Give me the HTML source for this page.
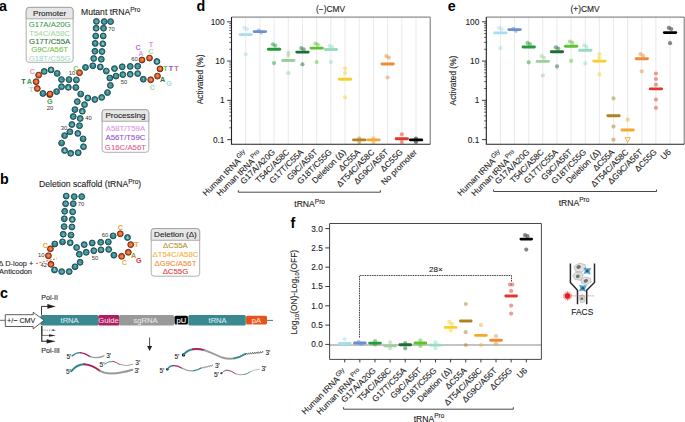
<!DOCTYPE html>
<html><head><meta charset="utf-8"><style>
html,body{margin:0;padding:0;background:#fff;width:685px;height:422px;overflow:hidden}
svg{display:block}
</style></head><body>
<svg width="685" height="422" viewBox="0 0 685 422" font-family='"Liberation Sans", sans-serif'>
<rect width="685" height="422" fill="#fff"/>
<text x="-1.00" y="10.60" font-size="14.3" fill="#000" text-anchor="start" font-weight="bold" >a</text>
<text x="0.00" y="183.60" font-size="14.3" fill="#000" text-anchor="start" font-weight="bold" >b</text>
<text x="0.00" y="297.60" font-size="14.3" fill="#000" text-anchor="start" font-weight="bold" >c</text>
<text x="196.60" y="10.60" font-size="14.3" fill="#000" text-anchor="start" font-weight="bold" >d</text>
<text x="447.70" y="11.00" font-size="14.3" fill="#000" text-anchor="start" font-weight="bold" >e</text>
<text x="290.40" y="228.10" font-size="14.3" fill="#000" text-anchor="start" font-weight="bold" >f</text>
<rect x="26.2" y="7.4" width="46.89999999999999" height="54.9" rx="3" fill="#fff" stroke="#9a9a9a" stroke-width="0.8"/>
<path d="M26.2 18.8 V10.4 Q26.2 7.4 29.2 7.4 H70.1 Q73.1 7.4 73.1 10.4 V18.8 Z" fill="#e6e6e6" stroke="#9a9a9a" stroke-width="0.8"/>
<text x="49.65" y="15.91" font-size="8.1" fill="#222" stroke="#222" stroke-width="0.1" text-anchor="middle" font-weight="normal" >Promoter</text>
<text x="49.65" y="27.41" font-size="7.8" fill="#3f9f4f" stroke="#3f9f4f" stroke-width="0.1" text-anchor="middle" font-weight="normal" >G17A/A20G</text>
<text x="49.65" y="35.61" font-size="7.8" fill="#a9d6a6" stroke="#a9d6a6" stroke-width="0.1" text-anchor="middle" font-weight="normal" >T54C/A58C</text>
<text x="49.65" y="44.01" font-size="7.8" fill="#2c7443" stroke="#2c7443" stroke-width="0.1" text-anchor="middle" font-weight="normal" >G17T/C55A</text>
<text x="49.65" y="52.31" font-size="7.8" fill="#74c043" stroke="#74c043" stroke-width="0.1" text-anchor="middle" font-weight="normal" >G9C/A56T</text>
<text x="49.65" y="61.01" font-size="7.8" fill="#9fdcc6" stroke="#9fdcc6" stroke-width="0.1" text-anchor="middle" font-weight="normal" >G18T/C55G</text>
<rect x="102.1" y="109.7" width="46.70000000000002" height="42.60000000000001" rx="3" fill="#fff" stroke="#9a9a9a" stroke-width="0.8"/>
<path d="M102.1 121.3 V112.7 Q102.1 109.7 105.1 109.7 H145.8 Q148.8 109.7 148.8 112.7 V121.3 Z" fill="#e6e6e6" stroke="#9a9a9a" stroke-width="0.8"/>
<text x="125.45" y="118.31" font-size="8.1" fill="#222" stroke="#222" stroke-width="0.1" text-anchor="middle" font-weight="normal" >Processing</text>
<text x="125.45" y="130.51" font-size="7.8" fill="#dc94e2" stroke="#dc94e2" stroke-width="0.1" text-anchor="middle" font-weight="normal" >A58T/T59A</text>
<text x="125.45" y="140.11" font-size="7.8" fill="#9350cc" stroke="#9350cc" stroke-width="0.1" text-anchor="middle" font-weight="normal" >A56T/T59C</text>
<text x="125.45" y="149.51" font-size="7.8" fill="#e05c8c" stroke="#e05c8c" stroke-width="0.1" text-anchor="middle" font-weight="normal" >G16C/A56T</text>
<rect x="151.2" y="228.5" width="48.5" height="47.69999999999999" rx="3" fill="#fff" stroke="#9a9a9a" stroke-width="0.8"/>
<path d="M151.2 240.3 V231.5 Q151.2 228.5 154.2 228.5 H196.7 Q199.7 228.5 199.7 231.5 V240.3 Z" fill="#e6e6e6" stroke="#9a9a9a" stroke-width="0.8"/>
<text x="175.45" y="237.21" font-size="8.1" fill="#222" stroke="#222" stroke-width="0.1" text-anchor="middle" font-weight="normal" >Deletion (Δ)</text>
<text x="175.45" y="248.21" font-size="7.8" fill="#b4902c" stroke="#b4902c" stroke-width="0.1" text-anchor="middle" font-weight="normal" >ΔC55A</text>
<text x="175.45" y="257.01" font-size="7.8" fill="#f4b23c" stroke="#f4b23c" stroke-width="0.1" text-anchor="middle" font-weight="normal" >ΔT54C/A58C</text>
<text x="175.45" y="265.61" font-size="7.8" fill="#f28c30" stroke="#f28c30" stroke-width="0.1" text-anchor="middle" font-weight="normal" >ΔG9C/A56T</text>
<text x="175.45" y="274.01" font-size="7.8" fill="#e0343a" stroke="#e0343a" stroke-width="0.1" text-anchor="middle" font-weight="normal" >ΔC55G</text>
<text x="81.00" y="15.20" font-size="8.6" fill="#222" stroke="#222" stroke-width="0.1" text-anchor="start" font-weight="normal" >Mutant tRNA<tspan font-size="6.5" dy="-3.4">Pro</tspan></text>
<text x="39.00" y="186.90" font-size="8.6" fill="#222" stroke="#222" stroke-width="0.1" text-anchor="start" font-weight="normal" >Deletion scaffold (tRNA<tspan font-size="6.5" dy="-3.4">Pro</tspan><tspan dy="3.4">)</tspan></text>
<circle cx="96.40" cy="21.40" r="2.95" fill="#2f878e" stroke="#173a3e" stroke-width="0.85"/>
<text x="96.40" y="22.70" font-size="3.6" fill="#c6e4e6" text-anchor="middle">G</text>
<circle cx="104.20" cy="21.60" r="2.95" fill="#2f878e" stroke="#173a3e" stroke-width="0.85"/>
<text x="104.20" y="22.90" font-size="3.6" fill="#c6e4e6" text-anchor="middle">C</text>
<circle cx="110.60" cy="21.60" r="2.95" fill="#2f878e" stroke="#173a3e" stroke-width="0.85"/>
<text x="110.60" y="22.90" font-size="3.6" fill="#c6e4e6" text-anchor="middle">C</text>
<circle cx="96.10" cy="28.20" r="2.95" fill="#2f878e" stroke="#173a3e" stroke-width="0.85"/>
<text x="96.10" y="29.50" font-size="3.6" fill="#c6e4e6" text-anchor="middle">G</text>
<circle cx="103.50" cy="28.20" r="2.95" fill="#2f878e" stroke="#173a3e" stroke-width="0.85"/>
<text x="103.50" y="29.50" font-size="3.6" fill="#c6e4e6" text-anchor="middle">C</text>
<circle cx="95.70" cy="36.00" r="2.95" fill="#2f878e" stroke="#173a3e" stroke-width="0.85"/>
<text x="95.70" y="37.30" font-size="3.6" fill="#c6e4e6" text-anchor="middle">C</text>
<circle cx="103.20" cy="36.00" r="2.95" fill="#2f878e" stroke="#173a3e" stroke-width="0.85"/>
<text x="103.20" y="37.30" font-size="3.6" fill="#c6e4e6" text-anchor="middle">G</text>
<circle cx="95.20" cy="43.40" r="2.95" fill="#2f878e" stroke="#173a3e" stroke-width="0.85"/>
<text x="95.20" y="44.70" font-size="3.6" fill="#c6e4e6" text-anchor="middle">T</text>
<circle cx="102.80" cy="43.80" r="2.95" fill="#2f878e" stroke="#173a3e" stroke-width="0.85"/>
<text x="102.80" y="45.10" font-size="3.6" fill="#c6e4e6" text-anchor="middle">A</text>
<circle cx="94.90" cy="51.20" r="2.95" fill="#2f878e" stroke="#173a3e" stroke-width="0.85"/>
<text x="94.90" y="52.50" font-size="3.6" fill="#c6e4e6" text-anchor="middle">C</text>
<circle cx="102.00" cy="51.50" r="2.95" fill="#2f878e" stroke="#173a3e" stroke-width="0.85"/>
<text x="102.00" y="52.80" font-size="3.6" fill="#c6e4e6" text-anchor="middle">G</text>
<circle cx="93.70" cy="58.50" r="2.95" fill="#2f878e" stroke="#173a3e" stroke-width="0.85"/>
<text x="93.70" y="59.80" font-size="3.6" fill="#c6e4e6" text-anchor="middle">G</text>
<circle cx="101.30" cy="59.20" r="2.95" fill="#2f878e" stroke="#173a3e" stroke-width="0.85"/>
<text x="101.30" y="60.50" font-size="3.6" fill="#c6e4e6" text-anchor="middle">C</text>
<circle cx="92.80" cy="65.80" r="2.95" fill="#2f878e" stroke="#173a3e" stroke-width="0.85"/>
<text x="92.80" y="67.10" font-size="3.6" fill="#c6e4e6" text-anchor="middle">T</text>
<circle cx="85.50" cy="67.40" r="2.95" fill="#2f878e" stroke="#173a3e" stroke-width="0.85"/>
<text x="85.50" y="68.70" font-size="3.6" fill="#c6e4e6" text-anchor="middle">T</text>
<circle cx="100.30" cy="67.00" r="2.95" fill="#2f878e" stroke="#173a3e" stroke-width="0.85"/>
<text x="100.30" y="68.30" font-size="3.6" fill="#c6e4e6" text-anchor="middle">A</text>
<circle cx="106.30" cy="71.10" r="2.95" fill="#2f878e" stroke="#173a3e" stroke-width="0.85"/>
<text x="106.30" y="72.40" font-size="3.6" fill="#c6e4e6" text-anchor="middle">G</text>
<circle cx="76.40" cy="79.90" r="2.95" fill="#2f878e" stroke="#173a3e" stroke-width="0.85"/>
<text x="76.40" y="81.20" font-size="3.6" fill="#c6e4e6" text-anchor="middle">G</text>
<circle cx="69.00" cy="79.60" r="2.95" fill="#2f878e" stroke="#173a3e" stroke-width="0.85"/>
<text x="69.00" y="80.90" font-size="3.6" fill="#c6e4e6" text-anchor="middle">T</text>
<circle cx="61.50" cy="79.60" r="2.95" fill="#2f878e" stroke="#173a3e" stroke-width="0.85"/>
<text x="61.50" y="80.90" font-size="3.6" fill="#c6e4e6" text-anchor="middle">C</text>
<circle cx="75.80" cy="87.50" r="2.95" fill="#2f878e" stroke="#173a3e" stroke-width="0.85"/>
<text x="75.80" y="88.80" font-size="3.6" fill="#c6e4e6" text-anchor="middle">T</text>
<circle cx="68.30" cy="87.30" r="2.95" fill="#2f878e" stroke="#173a3e" stroke-width="0.85"/>
<text x="68.30" y="88.60" font-size="3.6" fill="#c6e4e6" text-anchor="middle">A</text>
<circle cx="61.50" cy="86.70" r="2.95" fill="#2f878e" stroke="#173a3e" stroke-width="0.85"/>
<text x="61.50" y="88.00" font-size="3.6" fill="#c6e4e6" text-anchor="middle">G</text>
<circle cx="57.20" cy="73.40" r="2.95" fill="#2f878e" stroke="#173a3e" stroke-width="0.85"/>
<text x="57.20" y="74.70" font-size="3.6" fill="#c6e4e6" text-anchor="middle">T</text>
<circle cx="51.00" cy="69.90" r="2.95" fill="#2f878e" stroke="#173a3e" stroke-width="0.85"/>
<text x="51.00" y="71.20" font-size="3.6" fill="#c6e4e6" text-anchor="middle">A</text>
<circle cx="44.20" cy="71.40" r="2.95" fill="#2f878e" stroke="#173a3e" stroke-width="0.85"/>
<text x="44.20" y="72.70" font-size="3.6" fill="#c6e4e6" text-anchor="middle">G</text>
<circle cx="42.90" cy="93.50" r="2.95" fill="#2f878e" stroke="#173a3e" stroke-width="0.85"/>
<text x="42.90" y="94.80" font-size="3.6" fill="#c6e4e6" text-anchor="middle">T</text>
<circle cx="56.60" cy="91.60" r="2.95" fill="#2f878e" stroke="#173a3e" stroke-width="0.85"/>
<text x="56.60" y="92.90" font-size="3.6" fill="#c6e4e6" text-anchor="middle">T</text>
<circle cx="80.70" cy="94.10" r="2.95" fill="#2f878e" stroke="#173a3e" stroke-width="0.85"/>
<text x="80.70" y="95.40" font-size="3.6" fill="#c6e4e6" text-anchor="middle">T</text>
<circle cx="87.80" cy="98.00" r="2.95" fill="#2f878e" stroke="#173a3e" stroke-width="0.85"/>
<text x="87.80" y="99.30" font-size="3.6" fill="#c6e4e6" text-anchor="middle">A</text>
<circle cx="94.80" cy="99.50" r="2.95" fill="#2f878e" stroke="#173a3e" stroke-width="0.85"/>
<text x="94.80" y="100.80" font-size="3.6" fill="#c6e4e6" text-anchor="middle">G</text>
<circle cx="101.70" cy="97.40" r="2.95" fill="#2f878e" stroke="#173a3e" stroke-width="0.85"/>
<text x="101.70" y="98.70" font-size="3.6" fill="#c6e4e6" text-anchor="middle">G</text>
<circle cx="107.50" cy="92.60" r="2.95" fill="#2f878e" stroke="#173a3e" stroke-width="0.85"/>
<text x="107.50" y="93.90" font-size="3.6" fill="#c6e4e6" text-anchor="middle">T</text>
<circle cx="110.40" cy="85.40" r="2.95" fill="#2f878e" stroke="#173a3e" stroke-width="0.85"/>
<text x="110.40" y="86.70" font-size="3.6" fill="#c6e4e6" text-anchor="middle">C</text>
<circle cx="77.30" cy="101.60" r="2.95" fill="#2f878e" stroke="#173a3e" stroke-width="0.85"/>
<text x="77.30" y="102.90" font-size="3.6" fill="#c6e4e6" text-anchor="middle">C</text>
<circle cx="74.90" cy="109.60" r="2.95" fill="#2f878e" stroke="#173a3e" stroke-width="0.85"/>
<text x="74.90" y="110.90" font-size="3.6" fill="#c6e4e6" text-anchor="middle">T</text>
<circle cx="73.20" cy="116.50" r="2.95" fill="#2f878e" stroke="#173a3e" stroke-width="0.85"/>
<text x="73.20" y="117.80" font-size="3.6" fill="#c6e4e6" text-anchor="middle">C</text>
<circle cx="71.90" cy="124.50" r="2.95" fill="#2f878e" stroke="#173a3e" stroke-width="0.85"/>
<text x="71.90" y="125.80" font-size="3.6" fill="#c6e4e6" text-anchor="middle">G</text>
<circle cx="69.90" cy="131.80" r="2.95" fill="#2f878e" stroke="#173a3e" stroke-width="0.85"/>
<text x="69.90" y="133.10" font-size="3.6" fill="#c6e4e6" text-anchor="middle">C</text>
<circle cx="84.50" cy="104.60" r="2.95" fill="#2f878e" stroke="#173a3e" stroke-width="0.85"/>
<text x="84.50" y="105.90" font-size="3.6" fill="#c6e4e6" text-anchor="middle">G</text>
<circle cx="82.30" cy="111.20" r="2.95" fill="#2f878e" stroke="#173a3e" stroke-width="0.85"/>
<text x="82.30" y="112.50" font-size="3.6" fill="#c6e4e6" text-anchor="middle">A</text>
<circle cx="80.20" cy="118.50" r="2.95" fill="#2f878e" stroke="#173a3e" stroke-width="0.85"/>
<text x="80.20" y="119.80" font-size="3.6" fill="#c6e4e6" text-anchor="middle">G</text>
<circle cx="79.50" cy="125.70" r="2.95" fill="#2f878e" stroke="#173a3e" stroke-width="0.85"/>
<text x="79.50" y="127.00" font-size="3.6" fill="#c6e4e6" text-anchor="middle">C</text>
<circle cx="77.80" cy="133.40" r="2.95" fill="#2f878e" stroke="#173a3e" stroke-width="0.85"/>
<text x="77.80" y="134.70" font-size="3.6" fill="#c6e4e6" text-anchor="middle">G</text>
<circle cx="64.60" cy="135.60" r="2.95" fill="#2f878e" stroke="#173a3e" stroke-width="0.85"/>
<text x="64.60" y="136.90" font-size="3.6" fill="#c6e4e6" text-anchor="middle">T</text>
<circle cx="61.60" cy="143.10" r="2.95" fill="#2f878e" stroke="#173a3e" stroke-width="0.85"/>
<text x="61.60" y="144.40" font-size="3.6" fill="#c6e4e6" text-anchor="middle">T</text>
<circle cx="64.60" cy="150.50" r="2.95" fill="#2f878e" stroke="#173a3e" stroke-width="0.85"/>
<text x="64.60" y="151.80" font-size="3.6" fill="#c6e4e6" text-anchor="middle">A</text>
<circle cx="70.70" cy="153.30" r="2.95" fill="#2f878e" stroke="#173a3e" stroke-width="0.85"/>
<text x="70.70" y="154.60" font-size="3.6" fill="#c6e4e6" text-anchor="middle">G</text>
<circle cx="78.20" cy="152.70" r="2.95" fill="#2f878e" stroke="#173a3e" stroke-width="0.85"/>
<text x="78.20" y="154.00" font-size="3.6" fill="#c6e4e6" text-anchor="middle">G</text>
<circle cx="83.50" cy="146.70" r="2.95" fill="#2f878e" stroke="#173a3e" stroke-width="0.85"/>
<text x="83.50" y="148.00" font-size="3.6" fill="#c6e4e6" text-anchor="middle">G</text>
<circle cx="83.10" cy="138.90" r="2.95" fill="#2f878e" stroke="#173a3e" stroke-width="0.85"/>
<text x="83.10" y="140.20" font-size="3.6" fill="#c6e4e6" text-anchor="middle">T</text>
<circle cx="114.50" cy="68.60" r="2.95" fill="#2f878e" stroke="#173a3e" stroke-width="0.85"/>
<text x="114.50" y="69.90" font-size="3.6" fill="#c6e4e6" text-anchor="middle">G</text>
<circle cx="122.20" cy="66.80" r="2.95" fill="#2f878e" stroke="#173a3e" stroke-width="0.85"/>
<text x="122.20" y="68.10" font-size="3.6" fill="#c6e4e6" text-anchor="middle">C</text>
<circle cx="130.20" cy="66.40" r="2.95" fill="#2f878e" stroke="#173a3e" stroke-width="0.85"/>
<text x="130.20" y="67.70" font-size="3.6" fill="#c6e4e6" text-anchor="middle">C</text>
<circle cx="137.70" cy="66.20" r="2.95" fill="#2f878e" stroke="#173a3e" stroke-width="0.85"/>
<text x="137.70" y="67.50" font-size="3.6" fill="#c6e4e6" text-anchor="middle">C</text>
<circle cx="109.80" cy="78.00" r="2.95" fill="#2f878e" stroke="#173a3e" stroke-width="0.85"/>
<text x="109.80" y="79.30" font-size="3.6" fill="#c6e4e6" text-anchor="middle">C</text>
<circle cx="116.00" cy="76.10" r="2.95" fill="#2f878e" stroke="#173a3e" stroke-width="0.85"/>
<text x="116.00" y="77.40" font-size="3.6" fill="#c6e4e6" text-anchor="middle">C</text>
<circle cx="122.80" cy="74.60" r="2.95" fill="#2f878e" stroke="#173a3e" stroke-width="0.85"/>
<text x="122.80" y="75.90" font-size="3.6" fill="#c6e4e6" text-anchor="middle">G</text>
<circle cx="130.20" cy="74.20" r="2.95" fill="#2f878e" stroke="#173a3e" stroke-width="0.85"/>
<text x="130.20" y="75.50" font-size="3.6" fill="#c6e4e6" text-anchor="middle">G</text>
<circle cx="137.70" cy="73.60" r="2.95" fill="#2f878e" stroke="#173a3e" stroke-width="0.85"/>
<text x="137.70" y="74.90" font-size="3.6" fill="#c6e4e6" text-anchor="middle">G</text>
<circle cx="156.90" cy="61.50" r="2.95" fill="#2f878e" stroke="#173a3e" stroke-width="0.85"/>
<text x="156.90" y="62.80" font-size="3.6" fill="#c6e4e6" text-anchor="middle">A</text>
<circle cx="143.30" cy="79.20" r="2.95" fill="#2f878e" stroke="#173a3e" stroke-width="0.85"/>
<text x="143.30" y="80.50" font-size="3.6" fill="#c6e4e6" text-anchor="middle">T</text>
<circle cx="79.50" cy="72.70" r="2.95" fill="#e2521a" stroke="#4a2412" stroke-width="0.85"/>
<text x="79.50" y="74.00" font-size="3.6" fill="#ffd9c8" text-anchor="middle">G</text>
<circle cx="38.60" cy="75.10" r="2.95" fill="#e2521a" stroke="#4a2412" stroke-width="0.85"/>
<text x="38.60" y="76.40" font-size="3.6" fill="#ffd9c8" text-anchor="middle">G</text>
<circle cx="36.10" cy="81.70" r="2.95" fill="#e2521a" stroke="#4a2412" stroke-width="0.85"/>
<text x="36.10" y="83.00" font-size="3.6" fill="#ffd9c8" text-anchor="middle">G</text>
<circle cx="37.30" cy="88.50" r="2.95" fill="#e2521a" stroke="#4a2412" stroke-width="0.85"/>
<text x="37.30" y="89.80" font-size="3.6" fill="#ffd9c8" text-anchor="middle">G</text>
<circle cx="49.70" cy="94.50" r="2.95" fill="#e2521a" stroke="#4a2412" stroke-width="0.85"/>
<text x="49.70" y="95.80" font-size="3.6" fill="#ffd9c8" text-anchor="middle">G</text>
<circle cx="50.00" cy="94.10" r="2.95" fill="#e2521a" stroke="#4a2412" stroke-width="0.85"/>
<text x="50.00" y="95.40" font-size="3.6" fill="#ffd9c8" text-anchor="middle">G</text>
<circle cx="142.00" cy="60.00" r="2.95" fill="#e2521a" stroke="#4a2412" stroke-width="0.85"/>
<text x="142.00" y="61.30" font-size="3.6" fill="#ffd9c8" text-anchor="middle">G</text>
<circle cx="149.50" cy="58.10" r="2.95" fill="#e2521a" stroke="#4a2412" stroke-width="0.85"/>
<text x="149.50" y="59.40" font-size="3.6" fill="#ffd9c8" text-anchor="middle">G</text>
<circle cx="160.00" cy="68.90" r="2.95" fill="#e2521a" stroke="#4a2412" stroke-width="0.85"/>
<text x="160.00" y="70.20" font-size="3.6" fill="#ffd9c8" text-anchor="middle">G</text>
<circle cx="157.50" cy="76.10" r="2.95" fill="#e2521a" stroke="#4a2412" stroke-width="0.85"/>
<text x="157.50" y="77.40" font-size="3.6" fill="#ffd9c8" text-anchor="middle">G</text>
<circle cx="150.70" cy="79.80" r="2.95" fill="#e2521a" stroke="#4a2412" stroke-width="0.85"/>
<text x="150.70" y="81.10" font-size="3.6" fill="#ffd9c8" text-anchor="middle">G</text>
<text x="32.40" y="74.39" font-size="7.2" fill="#e892b8" text-anchor="middle" font-weight="bold">C</text>
<text x="23.50" y="84.29" font-size="7.2" fill="#2c7443" text-anchor="middle" font-weight="bold">T</text>
<text x="29.30" y="84.29" font-size="7.2" fill="#3f9f4f" text-anchor="middle" font-weight="bold">A</text>
<text x="31.10" y="92.39" font-size="7.2" fill="#9fdcc6" text-anchor="middle" font-weight="bold">T</text>
<text x="49.70" y="104.19" font-size="7.2" fill="#3fa046" text-anchor="middle" font-weight="bold">G</text>
<text x="75.80" y="70.59" font-size="7.2" fill="#7cc244" text-anchor="middle" font-weight="bold">C</text>
<text x="138.10" y="49.69" font-size="7.2" fill="#b070d8" text-anchor="middle" font-weight="bold">C</text>
<text x="140.90" y="55.79" font-size="7.2" fill="#e0a0e4" text-anchor="middle" font-weight="bold">A</text>
<text x="150.90" y="47.29" font-size="7.2" fill="#dc94e2" text-anchor="middle" font-weight="bold">T</text>
<text x="150.90" y="54.39" font-size="7.2" fill="#a9d6a6" text-anchor="middle" font-weight="bold">C</text>
<text x="165.50" y="70.99" font-size="7.2" fill="#74c043" text-anchor="middle" font-weight="bold">T</text>
<text x="171.00" y="70.99" font-size="7.2" fill="#9350cc" text-anchor="middle" font-weight="bold">T</text>
<text x="176.50" y="70.99" font-size="7.2" fill="#e05c8c" text-anchor="middle" font-weight="bold">T</text>
<text x="162.70" y="82.19" font-size="7.2" fill="#2c7443" text-anchor="middle" font-weight="bold">A</text>
<text x="169.00" y="85.79" font-size="7.2" fill="#9fdcc6" text-anchor="middle" font-weight="bold">G</text>
<text x="152.30" y="90.49" font-size="7.2" fill="#a9d6a6" text-anchor="middle" font-weight="bold">C</text>
<text x="50.00" y="110.29" font-size="5.8" fill="#333" text-anchor="middle" font-weight="normal">20</text>
<text x="72.00" y="75.09" font-size="5.8" fill="#333" text-anchor="middle" font-weight="normal">10</text>
<text x="111.50" y="30.59" font-size="5.8" fill="#333" text-anchor="middle" font-weight="normal">70</text>
<text x="64.00" y="129.89" font-size="5.8" fill="#333" text-anchor="middle" font-weight="normal">30</text>
<text x="88.60" y="120.29" font-size="5.8" fill="#333" text-anchor="middle" font-weight="normal">40</text>
<text x="124.00" y="83.79" font-size="5.8" fill="#333" text-anchor="middle" font-weight="normal">50</text>
<text x="134.60" y="60.79" font-size="5.8" fill="#333" text-anchor="middle" font-weight="normal">60</text>
<circle cx="66.20" cy="196.10" r="2.95" fill="#2f878e" stroke="#173a3e" stroke-width="0.85"/>
<text x="66.20" y="197.40" font-size="3.6" fill="#c6e4e6" text-anchor="middle">G</text>
<circle cx="74.20" cy="196.60" r="2.95" fill="#2f878e" stroke="#173a3e" stroke-width="0.85"/>
<text x="74.20" y="197.90" font-size="3.6" fill="#c6e4e6" text-anchor="middle">C</text>
<circle cx="81.70" cy="196.60" r="2.95" fill="#2f878e" stroke="#173a3e" stroke-width="0.85"/>
<text x="81.70" y="197.90" font-size="3.6" fill="#c6e4e6" text-anchor="middle">C</text>
<circle cx="65.60" cy="203.70" r="2.95" fill="#2f878e" stroke="#173a3e" stroke-width="0.85"/>
<text x="65.60" y="205.00" font-size="3.6" fill="#c6e4e6" text-anchor="middle">G</text>
<circle cx="64.70" cy="211.30" r="2.95" fill="#2f878e" stroke="#173a3e" stroke-width="0.85"/>
<text x="64.70" y="212.60" font-size="3.6" fill="#c6e4e6" text-anchor="middle">C</text>
<circle cx="64.30" cy="218.80" r="2.95" fill="#2f878e" stroke="#173a3e" stroke-width="0.85"/>
<text x="64.30" y="220.10" font-size="3.6" fill="#c6e4e6" text-anchor="middle">T</text>
<circle cx="64.10" cy="226.60" r="2.95" fill="#2f878e" stroke="#173a3e" stroke-width="0.85"/>
<text x="64.10" y="227.90" font-size="3.6" fill="#c6e4e6" text-anchor="middle">C</text>
<circle cx="63.20" cy="234.20" r="2.95" fill="#2f878e" stroke="#173a3e" stroke-width="0.85"/>
<text x="63.20" y="235.50" font-size="3.6" fill="#c6e4e6" text-anchor="middle">G</text>
<circle cx="73.20" cy="203.70" r="2.95" fill="#2f878e" stroke="#173a3e" stroke-width="0.85"/>
<text x="73.20" y="205.00" font-size="3.6" fill="#c6e4e6" text-anchor="middle">C</text>
<circle cx="72.60" cy="211.80" r="2.95" fill="#2f878e" stroke="#173a3e" stroke-width="0.85"/>
<text x="72.60" y="213.10" font-size="3.6" fill="#c6e4e6" text-anchor="middle">G</text>
<circle cx="72.30" cy="219.40" r="2.95" fill="#2f878e" stroke="#173a3e" stroke-width="0.85"/>
<text x="72.30" y="220.70" font-size="3.6" fill="#c6e4e6" text-anchor="middle">A</text>
<circle cx="71.90" cy="227.00" r="2.95" fill="#2f878e" stroke="#173a3e" stroke-width="0.85"/>
<text x="71.90" y="228.30" font-size="3.6" fill="#c6e4e6" text-anchor="middle">G</text>
<circle cx="71.00" cy="235.10" r="2.95" fill="#2f878e" stroke="#173a3e" stroke-width="0.85"/>
<text x="71.00" y="236.40" font-size="3.6" fill="#c6e4e6" text-anchor="middle">C</text>
<circle cx="54.80" cy="244.00" r="2.95" fill="#2f878e" stroke="#173a3e" stroke-width="0.85"/>
<text x="54.80" y="245.30" font-size="3.6" fill="#c6e4e6" text-anchor="middle">T</text>
<circle cx="62.50" cy="241.90" r="2.95" fill="#2f878e" stroke="#173a3e" stroke-width="0.85"/>
<text x="62.50" y="243.20" font-size="3.6" fill="#c6e4e6" text-anchor="middle">T</text>
<circle cx="70.20" cy="242.70" r="2.95" fill="#2f878e" stroke="#173a3e" stroke-width="0.85"/>
<text x="70.20" y="244.00" font-size="3.6" fill="#c6e4e6" text-anchor="middle">A</text>
<circle cx="76.60" cy="247.50" r="2.95" fill="#2f878e" stroke="#173a3e" stroke-width="0.85"/>
<text x="76.60" y="248.80" font-size="3.6" fill="#c6e4e6" text-anchor="middle">G</text>
<circle cx="84.20" cy="244.60" r="2.95" fill="#2f878e" stroke="#173a3e" stroke-width="0.85"/>
<text x="84.20" y="245.90" font-size="3.6" fill="#c6e4e6" text-anchor="middle">G</text>
<circle cx="92.20" cy="243.00" r="2.95" fill="#2f878e" stroke="#173a3e" stroke-width="0.85"/>
<text x="92.20" y="244.30" font-size="3.6" fill="#c6e4e6" text-anchor="middle">C</text>
<circle cx="100.70" cy="242.30" r="2.95" fill="#2f878e" stroke="#173a3e" stroke-width="0.85"/>
<text x="100.70" y="243.60" font-size="3.6" fill="#c6e4e6" text-anchor="middle">C</text>
<circle cx="108.30" cy="241.90" r="2.95" fill="#2f878e" stroke="#173a3e" stroke-width="0.85"/>
<text x="108.30" y="243.20" font-size="3.6" fill="#c6e4e6" text-anchor="middle">C</text>
<circle cx="113.10" cy="235.90" r="2.95" fill="#2f878e" stroke="#173a3e" stroke-width="0.85"/>
<text x="113.10" y="237.20" font-size="3.6" fill="#c6e4e6" text-anchor="middle">T</text>
<circle cx="127.50" cy="237.50" r="2.95" fill="#2f878e" stroke="#173a3e" stroke-width="0.85"/>
<text x="127.50" y="238.80" font-size="3.6" fill="#c6e4e6" text-anchor="middle">A</text>
<circle cx="113.90" cy="255.20" r="2.95" fill="#2f878e" stroke="#173a3e" stroke-width="0.85"/>
<text x="113.90" y="256.50" font-size="3.6" fill="#c6e4e6" text-anchor="middle">T</text>
<circle cx="108.70" cy="249.40" r="2.95" fill="#2f878e" stroke="#173a3e" stroke-width="0.85"/>
<text x="108.70" y="250.70" font-size="3.6" fill="#c6e4e6" text-anchor="middle">G</text>
<circle cx="101.00" cy="249.90" r="2.95" fill="#2f878e" stroke="#173a3e" stroke-width="0.85"/>
<text x="101.00" y="251.20" font-size="3.6" fill="#c6e4e6" text-anchor="middle">G</text>
<circle cx="93.80" cy="250.70" r="2.95" fill="#2f878e" stroke="#173a3e" stroke-width="0.85"/>
<text x="93.80" y="252.00" font-size="3.6" fill="#c6e4e6" text-anchor="middle">G</text>
<circle cx="86.20" cy="252.30" r="2.95" fill="#2f878e" stroke="#173a3e" stroke-width="0.85"/>
<text x="86.20" y="253.60" font-size="3.6" fill="#c6e4e6" text-anchor="middle">C</text>
<circle cx="79.30" cy="254.20" r="2.95" fill="#2f878e" stroke="#173a3e" stroke-width="0.85"/>
<text x="79.30" y="255.50" font-size="3.6" fill="#c6e4e6" text-anchor="middle">C</text>
<circle cx="80.10" cy="262.30" r="2.95" fill="#2f878e" stroke="#173a3e" stroke-width="0.85"/>
<text x="80.10" y="263.60" font-size="3.6" fill="#c6e4e6" text-anchor="middle">C</text>
<circle cx="75.00" cy="266.80" r="2.95" fill="#2f878e" stroke="#173a3e" stroke-width="0.85"/>
<text x="75.00" y="268.10" font-size="3.6" fill="#c6e4e6" text-anchor="middle">T</text>
<circle cx="69.20" cy="271.60" r="2.95" fill="#2f878e" stroke="#173a3e" stroke-width="0.85"/>
<text x="69.20" y="272.90" font-size="3.6" fill="#c6e4e6" text-anchor="middle">G</text>
<circle cx="61.70" cy="271.60" r="2.95" fill="#2f878e" stroke="#173a3e" stroke-width="0.85"/>
<text x="61.70" y="272.90" font-size="3.6" fill="#c6e4e6" text-anchor="middle">G</text>
<circle cx="54.50" cy="270.00" r="2.95" fill="#2f878e" stroke="#173a3e" stroke-width="0.85"/>
<text x="54.50" y="271.30" font-size="3.6" fill="#c6e4e6" text-anchor="middle">A</text>
<circle cx="50.90" cy="264.30" r="2.95" fill="#e2521a" stroke="#4a2412" stroke-width="0.85"/>
<text x="50.90" y="265.60" font-size="3.6" fill="#ffd9c8" text-anchor="middle">G</text>
<circle cx="48.40" cy="255.80" r="2.95" fill="#e2521a" stroke="#4a2412" stroke-width="0.85"/>
<text x="48.40" y="257.10" font-size="3.6" fill="#ffd9c8" text-anchor="middle">G</text>
<circle cx="50.40" cy="248.80" r="2.95" fill="#e2521a" stroke="#4a2412" stroke-width="0.85"/>
<text x="50.40" y="250.10" font-size="3.6" fill="#ffd9c8" text-anchor="middle">G</text>
<circle cx="120.30" cy="233.80" r="2.95" fill="#e2521a" stroke="#4a2412" stroke-width="0.85"/>
<text x="120.30" y="235.10" font-size="3.6" fill="#ffd9c8" text-anchor="middle">G</text>
<circle cx="130.70" cy="244.60" r="2.95" fill="#e2521a" stroke="#4a2412" stroke-width="0.85"/>
<text x="130.70" y="245.90" font-size="3.6" fill="#ffd9c8" text-anchor="middle">G</text>
<circle cx="128.30" cy="252.30" r="2.95" fill="#e2521a" stroke="#4a2412" stroke-width="0.85"/>
<text x="128.30" y="253.60" font-size="3.6" fill="#ffd9c8" text-anchor="middle">G</text>
<circle cx="121.60" cy="256.30" r="2.95" fill="#e2521a" stroke="#4a2412" stroke-width="0.85"/>
<text x="121.60" y="257.60" font-size="3.6" fill="#ffd9c8" text-anchor="middle">G</text>
<text x="45.30" y="247.59" font-size="7.2" fill="#f2a232" text-anchor="middle" font-weight="bold">C</text>
<text x="120.30" y="229.99" font-size="7.2" fill="#f2a232" text-anchor="middle" font-weight="bold">C</text>
<text x="136.40" y="247.19" font-size="7.2" fill="#f2a232" text-anchor="middle" font-weight="bold">T</text>
<text x="133.50" y="257.79" font-size="7.2" fill="#b4902c" text-anchor="middle" font-weight="bold">A</text>
<text x="138.80" y="262.59" font-size="7.2" fill="#e0343a" text-anchor="middle" font-weight="bold">G</text>
<text x="124.30" y="265.29" font-size="7.2" fill="#f4b23c" text-anchor="middle" font-weight="bold">C</text>
<text x="41.20" y="257.09" font-size="5.8" fill="#333" text-anchor="middle" font-weight="normal">10</text>
<text x="43.80" y="267.19" font-size="5.8" fill="#333" text-anchor="middle" font-weight="normal">42</text>
<text x="81.00" y="206.29" font-size="5.8" fill="#333" text-anchor="middle" font-weight="normal">70</text>
<text x="105.00" y="237.09" font-size="5.8" fill="#333" text-anchor="middle" font-weight="normal">60</text>
<text x="94.90" y="259.99" font-size="5.8" fill="#333" text-anchor="middle" font-weight="normal">50</text>
<line x1="35.9" y1="263.6" x2="56.9" y2="258.6" stroke="#e8602a" stroke-width="1" stroke-dasharray="2.2 1.3"/>
<text x="-1.40" y="266.00" font-size="7.4" fill="#222" stroke="#222" stroke-width="0.1" text-anchor="start" font-weight="normal" >Δ D-loop +</text>
<text x="-0.90" y="273.80" font-size="7.4" fill="#222" stroke="#222" stroke-width="0.1" text-anchor="start" font-weight="normal" >Anticodon</text>
<text x="41.30" y="300.00" font-size="7.1" fill="#222" stroke="#222" stroke-width="0.1" text-anchor="start" font-weight="normal" >Pol-II</text>
<text x="41.30" y="353.00" font-size="7.1" fill="#222" stroke="#222" stroke-width="0.1" text-anchor="start" font-weight="normal" >Pol-III</text>
<line x1="0" y1="320.3" x2="6" y2="320.3" stroke="#444" stroke-width="0.8"/>
<rect x="40.5" y="315" width="58" height="10.6" rx="1.5" fill="#3a8990"/>
<rect x="98.3" y="315" width="21" height="10.6" rx="1.5" fill="#ad1f60"/>
<rect x="119" y="315" width="55" height="10.6" rx="1.5" fill="#999"/>
<rect x="174.5" y="315.7" width="13.4" height="8.8" rx="1.5" fill="#000"/>
<rect x="188.3" y="315" width="57.5" height="10.6" rx="1.5" fill="#3a8990"/>
<rect x="246" y="315.8" width="21" height="8.8" rx="1.5" fill="#e5541c"/>
<line x1="267" y1="320.4" x2="273" y2="320.4" stroke="#444" stroke-width="0.8"/>
<path d="M5.3 314.7 H33.2 V312.3 L44.1 320.3 L33.2 328.9 V326.5 H5.3 Z" fill="#fff" stroke="#333" stroke-width="0.8"/>
<text x="21.20" y="322.90" font-size="7.2" fill="#222" stroke="#222" stroke-width="0.1" text-anchor="middle" font-weight="normal" >+/− CMV</text>
<text x="69.60" y="323.00" font-size="7.6" fill="#d8ecee" stroke="#d8ecee" stroke-width="0.1" text-anchor="middle" font-weight="normal" >tRNA</text>
<text x="108.50" y="323.00" font-size="7.6" fill="#f5dbe6" stroke="#f5dbe6" stroke-width="0.1" text-anchor="middle" font-weight="normal" >Guide</text>
<text x="145.50" y="323.00" font-size="7.6" fill="#e6e6e6" stroke="#e6e6e6" stroke-width="0.1" text-anchor="middle" font-weight="normal" >sgRNA</text>
<text x="181.40" y="323.00" font-size="7.6" fill="#fff" stroke="#fff" stroke-width="0.1" text-anchor="middle" font-weight="normal" >pU</text>
<text x="217.60" y="323.00" font-size="7.6" fill="#d8ecee" stroke="#d8ecee" stroke-width="0.1" text-anchor="middle" font-weight="normal" >tRNA</text>
<text x="256.50" y="323.00" font-size="7.6" fill="#fbe0d4" stroke="#fbe0d4" stroke-width="0.1" text-anchor="middle" font-weight="normal" >pA</text>
<path d="M41.5 314.7 V306.4 H48" fill="none" stroke="#222" stroke-width="0.9"/>
<path d="M47.4 304 L55.8 306.4 L47.4 308.8 Z" fill="#222"/>
<path d="M41.8 326 V341.3 H48" fill="none" stroke="#222" stroke-width="1.1"/>
<path d="M46.6 339.2 L55.8 341.3 L46.6 343.4 Z" fill="#222"/>
<path d="M41.8 326 V335.4 H50" fill="none" stroke="#222" stroke-width="0.6"/>
<path d="M49 334.2 L55.8 335.4 L49 336.7 Z" fill="#222"/>
<path d="M41.8 330.2 H53" fill="none" stroke="#222" stroke-width="0.5" stroke-dasharray="1 0.8"/>
<path d="M52.5 329.3 L55.8 330.2 L52.5 331.1 Z" fill="#222"/>
<line x1="149.6" y1="337.5" x2="149.6" y2="347" stroke="#222" stroke-width="0.8"/>
<path d="M147.1 346 L152.1 346 L149.6 351 Z" fill="#222"/>
<path d="M72.1 356 Q76 352.3 80.5 352.6" fill="none" stroke="#2f878e" stroke-width="1.3" stroke-linecap="round"/>
<path d="M80.5 352.6 Q85 353 90.2 356.6" fill="none" stroke="#ad1f60" stroke-width="1.3" stroke-linecap="round"/>
<path d="M90.2 356.6 Q97 359 104 355.8" fill="none" stroke="#9a9a9a" stroke-width="1.3" stroke-linecap="round"/>
<path d="M104.7 364 Q108.5 361 113.2 361.4" fill="none" stroke="#2f878e" stroke-width="0.9" stroke-linecap="round"/>
<path d="M113.2 361.4 Q116.5 362.2 119.8 364.5" fill="none" stroke="#ad1f60" stroke-width="0.9" stroke-linecap="round"/>
<path d="M119.8 364.5 Q126 367 132.9 364.3" fill="none" stroke="#9a9a9a" stroke-width="0.9" stroke-linecap="round"/>
<path d="M71.2 371.3 Q77 364.2 84.3 364.3" fill="none" stroke="#2f878e" stroke-width="2" stroke-linecap="round"/>
<path d="M84.3 364.3 Q92 364.8 100.1 371" fill="none" stroke="#ad1f60" stroke-width="2" stroke-linecap="round"/>
<path d="M100.1 371 Q110 376.5 132.3 369.8" fill="none" stroke="#9a9a9a" stroke-width="2" stroke-linecap="round"/>
<text x="66.50" y="358.80" font-size="6.5" fill="#222" stroke="#222" stroke-width="0.1" text-anchor="start" font-weight="normal" >5'</text>
<text x="106.20" y="358.00" font-size="6.5" fill="#222" stroke="#222" stroke-width="0.1" text-anchor="start" font-weight="normal" >3'</text>
<text x="99.60" y="366.50" font-size="6.5" fill="#222" stroke="#222" stroke-width="0.1" text-anchor="start" font-weight="normal" >5'</text>
<text x="135.30" y="365.30" font-size="6.5" fill="#222" stroke="#222" stroke-width="0.1" text-anchor="start" font-weight="normal" >3'</text>
<text x="66.00" y="373.50" font-size="6.5" fill="#222" stroke="#222" stroke-width="0.1" text-anchor="start" font-weight="normal" >5'</text>
<text x="134.50" y="373.20" font-size="6.5" fill="#222" stroke="#222" stroke-width="0.1" text-anchor="start" font-weight="normal" >3'</text>
<circle cx="183.5" cy="354.9" r="1.7" fill="#000"/>
<path d="M183.5 354.9 Q187 350 193 349.2" fill="none" stroke="#2f878e" stroke-width="1.9" stroke-linecap="round"/>
<path d="M193 349.2 Q199 348.7 204.3 350.2" fill="none" stroke="#ad1f60" stroke-width="1.9" stroke-linecap="round"/>
<path d="M204.3 350.2 Q212 353 222 357.5 Q229 359.5 234 358.4" fill="none" stroke="#9a9a9a" stroke-width="1.9" stroke-linecap="round"/>
<path d="M234 358.4 Q240 357.3 245.1 354" fill="none" stroke="#2f878e" stroke-width="1.9" stroke-linecap="round"/>
<polyline points="245.10 354.00 245.69 354.74 246.11 353.89 246.52 353.05 247.11 353.79 247.70 354.53 248.12 353.68 248.54 352.83 249.12 353.58 249.71 354.32 250.13 353.47 250.55 352.62 251.13 353.37 251.72 354.11 252.14 353.26 252.56 352.41 253.14 353.16 253.73 353.90 254.15 353.05 254.57 352.20 255.16 352.94 255.74 353.69 256.16 352.84 256.58 351.99 257.17 352.73 257.75 353.48 258.17 352.63 258.59 351.78 259.18 352.52 259.76 353.27 260.18 352.42 260.60 351.57 261.19 352.31 261.78 353.05 262.19 352.21 262.61 351.36 263.20 352.10" fill="none" stroke="#333" stroke-width="0.7"/>
<text x="265.50" y="355.00" font-size="6.5" fill="#222" stroke="#222" stroke-width="0.1" text-anchor="start" font-weight="normal" >3'</text>
<text x="174.50" y="358.60" font-size="6.5" fill="#222" stroke="#222" stroke-width="0.1" text-anchor="start" font-weight="normal" >5'</text>
<circle cx="167.3" cy="369.2" r="1.2" fill="#000"/>
<path d="M167.3 369.2 Q169.5 366 173 365.7" fill="none" stroke="#2f878e" stroke-width="1.3" stroke-linecap="round"/>
<path d="M173 365.7 Q177.5 365.5 181.6 368" fill="none" stroke="#ad1f60" stroke-width="1.3" stroke-linecap="round"/>
<path d="M181.6 368 Q188 371.5 193.9 370.6" fill="none" stroke="#9a9a9a" stroke-width="1.3" stroke-linecap="round"/>
<path d="M193.9 370.6 Q198 370 200.5 368.2" fill="none" stroke="#2f878e" stroke-width="1.3" stroke-linecap="round"/>
<polyline points="200.50 368.20 201.15 368.67 201.53 367.97 201.92 367.26 202.57 367.73 203.22 368.20 203.60 367.50 203.98 366.80 204.63 367.27 205.28 367.74 205.67 367.03 206.05 366.33 206.70 366.80 207.35 367.27 207.73 366.57 208.12 365.86 208.77 366.33 209.42 366.80 209.80 366.10 210.18 365.40 210.83 365.87 211.48 366.34 211.87 365.63 212.25 364.93 212.90 365.40" fill="none" stroke="#333" stroke-width="0.55"/>
<text x="215.00" y="367.60" font-size="6.5" fill="#222" stroke="#222" stroke-width="0.1" text-anchor="start" font-weight="normal" >3'</text>
<text x="159.50" y="373.00" font-size="6.5" fill="#222" stroke="#222" stroke-width="0.1" text-anchor="start" font-weight="normal" >5'</text>
<circle cx="221.4" cy="373.3" r="1" fill="#000"/>
<path d="M221.4 373.3 Q223.5 370.5 226.7 370.1" fill="none" stroke="#2f878e" stroke-width="0.9" stroke-linecap="round"/>
<path d="M226.7 370.1 Q231 370.2 235.6 373.8" fill="none" stroke="#ad1f60" stroke-width="0.9" stroke-linecap="round"/>
<path d="M235.6 373.8 Q240 375.6 244.2 374.5" fill="none" stroke="#9a9a9a" stroke-width="0.9" stroke-linecap="round"/>
<path d="M244.2 374.5 Q247.5 373.8 249.9 372" fill="none" stroke="#2f878e" stroke-width="0.9" stroke-linecap="round"/>
<path d="M249.9 372 Q254 369.5 259.4 369.2" fill="none" stroke="#9a9a9a" stroke-width="0.7" stroke-linecap="round"/>
<text x="261.50" y="370.60" font-size="6.5" fill="#222" stroke="#222" stroke-width="0.1" text-anchor="start" font-weight="normal" >3'</text>
<text x="214.00" y="377.20" font-size="6.5" fill="#222" stroke="#222" stroke-width="0.1" text-anchor="start" font-weight="normal" >5'</text>
<line x1="245.69" y1="17.1" x2="245.69" y2="144.3" stroke="#e3e3e3" stroke-width="0.8"/>
<line x1="259.89" y1="17.1" x2="259.89" y2="144.3" stroke="#e3e3e3" stroke-width="0.8"/>
<line x1="274.08" y1="17.1" x2="274.08" y2="144.3" stroke="#e3e3e3" stroke-width="0.8"/>
<line x1="288.27" y1="17.1" x2="288.27" y2="144.3" stroke="#e3e3e3" stroke-width="0.8"/>
<line x1="302.46" y1="17.1" x2="302.46" y2="144.3" stroke="#e3e3e3" stroke-width="0.8"/>
<line x1="316.66" y1="17.1" x2="316.66" y2="144.3" stroke="#e3e3e3" stroke-width="0.8"/>
<line x1="330.85" y1="17.1" x2="330.85" y2="144.3" stroke="#e3e3e3" stroke-width="0.8"/>
<line x1="345.04" y1="17.1" x2="345.04" y2="144.3" stroke="#e3e3e3" stroke-width="0.8"/>
<line x1="359.24" y1="17.1" x2="359.24" y2="144.3" stroke="#e3e3e3" stroke-width="0.8"/>
<line x1="373.43" y1="17.1" x2="373.43" y2="144.3" stroke="#e3e3e3" stroke-width="0.8"/>
<line x1="387.62" y1="17.1" x2="387.62" y2="144.3" stroke="#e3e3e3" stroke-width="0.8"/>
<line x1="401.81" y1="17.1" x2="401.81" y2="144.3" stroke="#e3e3e3" stroke-width="0.8"/>
<line x1="416.01" y1="17.1" x2="416.01" y2="144.3" stroke="#e3e3e3" stroke-width="0.8"/>
<circle cx="244.49" cy="27.80" r="2.1" fill="#a8dcef" fill-opacity="0.5"/>
<circle cx="246.89" cy="29.20" r="2.1" fill="#a8dcef" fill-opacity="0.5"/>
<circle cx="245.69" cy="54.30" r="2.1" fill="#a8dcef" fill-opacity="0.5"/>
<circle cx="258.69" cy="30.60" r="2.1" fill="#6b8fd3" fill-opacity="0.5"/>
<circle cx="261.09" cy="32.40" r="2.1" fill="#6b8fd3" fill-opacity="0.5"/>
<circle cx="272.88" cy="44.30" r="2.1" fill="#259a3a" fill-opacity="0.5"/>
<circle cx="275.28" cy="45.60" r="2.1" fill="#259a3a" fill-opacity="0.5"/>
<circle cx="274.08" cy="63.10" r="2.1" fill="#259a3a" fill-opacity="0.5"/>
<circle cx="288.27" cy="52.70" r="2.1" fill="#9dcf9b" fill-opacity="0.5"/>
<circle cx="288.27" cy="55.40" r="2.1" fill="#9dcf9b" fill-opacity="0.5"/>
<circle cx="288.27" cy="73.20" r="2.1" fill="#9dcf9b" fill-opacity="0.5"/>
<circle cx="301.26" cy="48.10" r="2.1" fill="#1d6b35" fill-opacity="0.5"/>
<circle cx="303.66" cy="49.40" r="2.1" fill="#1d6b35" fill-opacity="0.5"/>
<circle cx="302.46" cy="64.30" r="2.1" fill="#1d6b35" fill-opacity="0.5"/>
<circle cx="315.46" cy="43.50" r="2.1" fill="#5ec22f" fill-opacity="0.5"/>
<circle cx="317.86" cy="44.80" r="2.1" fill="#5ec22f" fill-opacity="0.5"/>
<circle cx="316.66" cy="62.00" r="2.1" fill="#5ec22f" fill-opacity="0.5"/>
<circle cx="329.65" cy="45.80" r="2.1" fill="#96dcc1" fill-opacity="0.5"/>
<circle cx="332.05" cy="47.20" r="2.1" fill="#96dcc1" fill-opacity="0.5"/>
<circle cx="330.85" cy="62.00" r="2.1" fill="#96dcc1" fill-opacity="0.5"/>
<circle cx="345.04" cy="68.50" r="2.1" fill="#f7cf2b" fill-opacity="0.5"/>
<circle cx="345.04" cy="73.00" r="2.1" fill="#f7cf2b" fill-opacity="0.5"/>
<circle cx="345.04" cy="97.30" r="2.1" fill="#f7cf2b" fill-opacity="0.5"/>
<circle cx="359.24" cy="138.60" r="2.1" fill="#ae8422" fill-opacity="0.5"/>
<circle cx="359.24" cy="141.90" r="2.1" fill="#ae8422" fill-opacity="0.5"/>
<circle cx="373.43" cy="138.40" r="2.1" fill="#f6a82c" fill-opacity="0.5"/>
<circle cx="373.43" cy="141.90" r="2.1" fill="#f6a82c" fill-opacity="0.5"/>
<circle cx="386.42" cy="56.10" r="2.1" fill="#ef8a37" fill-opacity="0.5"/>
<circle cx="388.82" cy="57.70" r="2.1" fill="#ef8a37" fill-opacity="0.5"/>
<circle cx="387.62" cy="77.50" r="2.1" fill="#ef8a37" fill-opacity="0.5"/>
<circle cx="401.81" cy="134.30" r="2.1" fill="#df3a2b" fill-opacity="0.5"/>
<circle cx="401.81" cy="142.00" r="2.1" fill="#df3a2b" fill-opacity="0.5"/>
<circle cx="416.01" cy="138.60" r="2.1" fill="#000000" fill-opacity="0.5"/>
<circle cx="416.01" cy="141.90" r="2.1" fill="#000000" fill-opacity="0.5"/>
<line x1="239.99" y1="34.60" x2="251.39" y2="34.60" stroke="#a8dcef" stroke-width="2.9" stroke-linecap="round"/>
<line x1="254.19" y1="31.60" x2="265.59" y2="31.60" stroke="#6b8fd3" stroke-width="2.9" stroke-linecap="round"/>
<line x1="268.38" y1="49.20" x2="279.78" y2="49.20" stroke="#259a3a" stroke-width="2.9" stroke-linecap="round"/>
<line x1="282.57" y1="60.50" x2="293.97" y2="60.50" stroke="#9dcf9b" stroke-width="2.9" stroke-linecap="round"/>
<line x1="296.76" y1="52.10" x2="308.16" y2="52.10" stroke="#1d6b35" stroke-width="2.9" stroke-linecap="round"/>
<line x1="310.96" y1="48.10" x2="322.36" y2="48.10" stroke="#5ec22f" stroke-width="2.9" stroke-linecap="round"/>
<line x1="325.15" y1="49.50" x2="336.55" y2="49.50" stroke="#96dcc1" stroke-width="2.9" stroke-linecap="round"/>
<line x1="339.34" y1="79.30" x2="350.74" y2="79.30" stroke="#f7cf2b" stroke-width="2.9" stroke-linecap="round"/>
<line x1="353.54" y1="139.90" x2="364.94" y2="139.90" stroke="#ae8422" stroke-width="2.9" stroke-linecap="round"/>
<line x1="367.73" y1="139.90" x2="379.13" y2="139.90" stroke="#f6a82c" stroke-width="2.9" stroke-linecap="round"/>
<line x1="381.92" y1="64.00" x2="393.32" y2="64.00" stroke="#ef8a37" stroke-width="2.9" stroke-linecap="round"/>
<line x1="396.11" y1="138.80" x2="407.51" y2="138.80" stroke="#df3a2b" stroke-width="2.9" stroke-linecap="round"/>
<line x1="410.31" y1="139.90" x2="421.71" y2="139.90" stroke="#000000" stroke-width="2.9" stroke-linecap="round"/>
<path d="M231.5 17.1 H430.2 V144.3" fill="none" stroke="#6e6e6e" stroke-width="1"/>
<path d="M231.5 17.1 V144.3 H430.2" fill="none" stroke="#222" stroke-width="1.1"/>
<line x1="227.2" y1="21.80" x2="231.5" y2="21.80" stroke="#222" stroke-width="0.9"/>
<text x="224.50" y="24.70" font-size="8.3" fill="#222" stroke="#222" stroke-width="0.1" text-anchor="end" font-weight="normal" >100</text>
<line x1="229.3" y1="49.25" x2="231.5" y2="49.25" stroke="#222" stroke-width="0.7"/>
<line x1="229.3" y1="42.33" x2="231.5" y2="42.33" stroke="#222" stroke-width="0.7"/>
<line x1="229.3" y1="37.43" x2="231.5" y2="37.43" stroke="#222" stroke-width="0.7"/>
<line x1="229.3" y1="33.62" x2="231.5" y2="33.62" stroke="#222" stroke-width="0.7"/>
<line x1="229.3" y1="30.51" x2="231.5" y2="30.51" stroke="#222" stroke-width="0.7"/>
<line x1="229.3" y1="27.88" x2="231.5" y2="27.88" stroke="#222" stroke-width="0.7"/>
<line x1="229.3" y1="25.61" x2="231.5" y2="25.61" stroke="#222" stroke-width="0.7"/>
<line x1="229.3" y1="23.60" x2="231.5" y2="23.60" stroke="#222" stroke-width="0.7"/>
<line x1="227.2" y1="61.07" x2="231.5" y2="61.07" stroke="#222" stroke-width="0.9"/>
<text x="224.50" y="63.97" font-size="8.3" fill="#222" stroke="#222" stroke-width="0.1" text-anchor="end" font-weight="normal" >10</text>
<line x1="229.3" y1="88.52" x2="231.5" y2="88.52" stroke="#222" stroke-width="0.7"/>
<line x1="229.3" y1="81.60" x2="231.5" y2="81.60" stroke="#222" stroke-width="0.7"/>
<line x1="229.3" y1="76.70" x2="231.5" y2="76.70" stroke="#222" stroke-width="0.7"/>
<line x1="229.3" y1="72.89" x2="231.5" y2="72.89" stroke="#222" stroke-width="0.7"/>
<line x1="229.3" y1="69.78" x2="231.5" y2="69.78" stroke="#222" stroke-width="0.7"/>
<line x1="229.3" y1="67.15" x2="231.5" y2="67.15" stroke="#222" stroke-width="0.7"/>
<line x1="229.3" y1="64.88" x2="231.5" y2="64.88" stroke="#222" stroke-width="0.7"/>
<line x1="229.3" y1="62.87" x2="231.5" y2="62.87" stroke="#222" stroke-width="0.7"/>
<line x1="227.2" y1="100.34" x2="231.5" y2="100.34" stroke="#222" stroke-width="0.9"/>
<text x="224.50" y="103.24" font-size="8.3" fill="#222" stroke="#222" stroke-width="0.1" text-anchor="end" font-weight="normal" >1</text>
<line x1="229.3" y1="127.79" x2="231.5" y2="127.79" stroke="#222" stroke-width="0.7"/>
<line x1="229.3" y1="120.87" x2="231.5" y2="120.87" stroke="#222" stroke-width="0.7"/>
<line x1="229.3" y1="115.97" x2="231.5" y2="115.97" stroke="#222" stroke-width="0.7"/>
<line x1="229.3" y1="112.16" x2="231.5" y2="112.16" stroke="#222" stroke-width="0.7"/>
<line x1="229.3" y1="109.05" x2="231.5" y2="109.05" stroke="#222" stroke-width="0.7"/>
<line x1="229.3" y1="106.42" x2="231.5" y2="106.42" stroke="#222" stroke-width="0.7"/>
<line x1="229.3" y1="104.15" x2="231.5" y2="104.15" stroke="#222" stroke-width="0.7"/>
<line x1="229.3" y1="102.14" x2="231.5" y2="102.14" stroke="#222" stroke-width="0.7"/>
<line x1="227.2" y1="139.61" x2="231.5" y2="139.61" stroke="#222" stroke-width="0.9"/>
<text x="224.50" y="142.51" font-size="8.3" fill="#222" stroke="#222" stroke-width="0.1" text-anchor="end" font-weight="normal" >0.1</text>
<text x="203.50" y="79.40" font-size="8.4" fill="#222" stroke="#222" stroke-width="0.1" text-anchor="middle" transform="rotate(-90 203.50 79.40)">Activated (%)</text>
<text x="330.50" y="11.80" font-size="8.4" fill="#222" stroke="#222" stroke-width="0.1" text-anchor="middle" font-weight="normal" >(−)CMV</text>
<text x="248.19" y="154.50" font-size="8.4" fill="#222" stroke="#222" stroke-width="0.1" text-anchor="end" transform="rotate(-45 248.19 154.50)">Human tRNA<tspan font-size="6.4" dx="0.6" dy="-3.6">Gly</tspan></text>
<text x="262.39" y="154.50" font-size="8.4" fill="#222" stroke="#222" stroke-width="0.1" text-anchor="end" transform="rotate(-45 262.39 154.50)">Human tRNA<tspan font-size="6.4" dx="0.6" dy="-3.6">Pro</tspan></text>
<text x="275.58" y="152.70" font-size="8.4" fill="#222" stroke="#222" stroke-width="0.1" text-anchor="end" transform="rotate(-45 275.58 152.70)">G17A/A20G</text>
<text x="289.77" y="152.70" font-size="8.4" fill="#222" stroke="#222" stroke-width="0.1" text-anchor="end" transform="rotate(-45 289.77 152.70)">T54C/A58C</text>
<text x="303.96" y="152.70" font-size="8.4" fill="#222" stroke="#222" stroke-width="0.1" text-anchor="end" transform="rotate(-45 303.96 152.70)">G17T/C55A</text>
<text x="318.16" y="152.70" font-size="8.4" fill="#222" stroke="#222" stroke-width="0.1" text-anchor="end" transform="rotate(-45 318.16 152.70)">G9C/A56T</text>
<text x="332.35" y="152.70" font-size="8.4" fill="#222" stroke="#222" stroke-width="0.1" text-anchor="end" transform="rotate(-45 332.35 152.70)">G18T/C55G</text>
<text x="346.54" y="152.70" font-size="8.4" fill="#222" stroke="#222" stroke-width="0.1" text-anchor="end" transform="rotate(-45 346.54 152.70)">Deletion (Δ)</text>
<text x="360.74" y="152.70" font-size="8.4" fill="#222" stroke="#222" stroke-width="0.1" text-anchor="end" transform="rotate(-45 360.74 152.70)">ΔC55A</text>
<text x="374.93" y="152.70" font-size="8.4" fill="#222" stroke="#222" stroke-width="0.1" text-anchor="end" transform="rotate(-45 374.93 152.70)">ΔT54C/A58C</text>
<text x="389.12" y="152.70" font-size="8.4" fill="#222" stroke="#222" stroke-width="0.1" text-anchor="end" transform="rotate(-45 389.12 152.70)">ΔG9C/A56T</text>
<text x="403.31" y="152.70" font-size="8.4" fill="#222" stroke="#222" stroke-width="0.1" text-anchor="end" transform="rotate(-45 403.31 152.70)">ΔC55G</text>
<text x="417.51" y="152.70" font-size="8.4" fill="#222" stroke="#222" stroke-width="0.1" text-anchor="end" transform="rotate(-45 417.51 152.70)">No promoter</text>
<path d="M238.3 190.2 V192.2 H380.4 V190.2" fill="none" stroke="#333" stroke-width="0.9"/>
<text x="309.60" y="206.90" font-size="8.6" fill="#222" stroke="#222" stroke-width="0.1" text-anchor="middle" font-weight="normal" >tRNA<tspan font-size="6.5" dy="-3.4">Pro</tspan></text>
<line x1="500.44" y1="17.1" x2="500.44" y2="144.3" stroke="#e3e3e3" stroke-width="0.8"/>
<line x1="514.57" y1="17.1" x2="514.57" y2="144.3" stroke="#e3e3e3" stroke-width="0.8"/>
<line x1="528.71" y1="17.1" x2="528.71" y2="144.3" stroke="#e3e3e3" stroke-width="0.8"/>
<line x1="542.84" y1="17.1" x2="542.84" y2="144.3" stroke="#e3e3e3" stroke-width="0.8"/>
<line x1="556.98" y1="17.1" x2="556.98" y2="144.3" stroke="#e3e3e3" stroke-width="0.8"/>
<line x1="571.11" y1="17.1" x2="571.11" y2="144.3" stroke="#e3e3e3" stroke-width="0.8"/>
<line x1="585.25" y1="17.1" x2="585.25" y2="144.3" stroke="#e3e3e3" stroke-width="0.8"/>
<line x1="599.39" y1="17.1" x2="599.39" y2="144.3" stroke="#e3e3e3" stroke-width="0.8"/>
<line x1="613.52" y1="17.1" x2="613.52" y2="144.3" stroke="#e3e3e3" stroke-width="0.8"/>
<line x1="627.66" y1="17.1" x2="627.66" y2="144.3" stroke="#e3e3e3" stroke-width="0.8"/>
<line x1="641.79" y1="17.1" x2="641.79" y2="144.3" stroke="#e3e3e3" stroke-width="0.8"/>
<line x1="655.93" y1="17.1" x2="655.93" y2="144.3" stroke="#e3e3e3" stroke-width="0.8"/>
<line x1="670.06" y1="17.1" x2="670.06" y2="144.3" stroke="#e3e3e3" stroke-width="0.8"/>
<circle cx="499.24" cy="27.90" r="2.1" fill="#a8dcef" fill-opacity="0.5"/>
<circle cx="501.64" cy="29.20" r="2.1" fill="#a8dcef" fill-opacity="0.5"/>
<circle cx="500.44" cy="48.20" r="2.1" fill="#a8dcef" fill-opacity="0.5"/>
<circle cx="513.37" cy="28.90" r="2.1" fill="#6b8fd3" fill-opacity="0.5"/>
<circle cx="515.77" cy="30.80" r="2.1" fill="#6b8fd3" fill-opacity="0.5"/>
<circle cx="527.51" cy="42.90" r="2.1" fill="#259a3a" fill-opacity="0.5"/>
<circle cx="529.91" cy="44.20" r="2.1" fill="#259a3a" fill-opacity="0.5"/>
<circle cx="528.71" cy="62.30" r="2.1" fill="#259a3a" fill-opacity="0.5"/>
<circle cx="541.64" cy="56.10" r="2.1" fill="#9dcf9b" fill-opacity="0.5"/>
<circle cx="544.04" cy="57.80" r="2.1" fill="#9dcf9b" fill-opacity="0.5"/>
<circle cx="542.84" cy="75.50" r="2.1" fill="#9dcf9b" fill-opacity="0.5"/>
<circle cx="555.78" cy="47.30" r="2.1" fill="#1d6b35" fill-opacity="0.5"/>
<circle cx="558.18" cy="48.60" r="2.1" fill="#1d6b35" fill-opacity="0.5"/>
<circle cx="556.98" cy="66.40" r="2.1" fill="#1d6b35" fill-opacity="0.5"/>
<circle cx="569.91" cy="41.50" r="2.1" fill="#5ec22f" fill-opacity="0.5"/>
<circle cx="572.31" cy="42.80" r="2.1" fill="#5ec22f" fill-opacity="0.5"/>
<circle cx="571.11" cy="60.90" r="2.1" fill="#5ec22f" fill-opacity="0.5"/>
<circle cx="584.05" cy="45.30" r="2.1" fill="#96dcc1" fill-opacity="0.5"/>
<circle cx="586.45" cy="46.80" r="2.1" fill="#96dcc1" fill-opacity="0.5"/>
<circle cx="585.25" cy="63.40" r="2.1" fill="#96dcc1" fill-opacity="0.5"/>
<circle cx="599.39" cy="54.00" r="2.1" fill="#f7cf2b" fill-opacity="0.5"/>
<circle cx="599.39" cy="57.80" r="2.1" fill="#f7cf2b" fill-opacity="0.5"/>
<circle cx="599.39" cy="74.40" r="2.1" fill="#f7cf2b" fill-opacity="0.5"/>
<circle cx="613.52" cy="98.40" r="2.1" fill="#ae8422" fill-opacity="0.5"/>
<circle cx="613.52" cy="126.60" r="2.1" fill="#ae8422" fill-opacity="0.5"/>
<circle cx="613.52" cy="139.70" r="2.1" fill="#ae8422" fill-opacity="0.5"/>
<circle cx="627.66" cy="119.70" r="2.1" fill="#f6a82c" fill-opacity="0.5"/>
<circle cx="640.59" cy="54.00" r="2.1" fill="#ef8a37" fill-opacity="0.5"/>
<circle cx="642.99" cy="55.80" r="2.1" fill="#ef8a37" fill-opacity="0.5"/>
<circle cx="641.79" cy="71.30" r="2.1" fill="#ef8a37" fill-opacity="0.5"/>
<circle cx="655.93" cy="73.50" r="2.1" fill="#df3a2b" fill-opacity="0.5"/>
<circle cx="655.93" cy="79.00" r="2.1" fill="#df3a2b" fill-opacity="0.5"/>
<circle cx="655.93" cy="84.70" r="2.1" fill="#df3a2b" fill-opacity="0.5"/>
<circle cx="655.93" cy="99.60" r="2.1" fill="#df3a2b" fill-opacity="0.5"/>
<circle cx="655.93" cy="107.80" r="2.1" fill="#df3a2b" fill-opacity="0.5"/>
<circle cx="668.86" cy="27.80" r="2.1" fill="#555" fill-opacity="0.7"/>
<circle cx="671.26" cy="29.00" r="2.1" fill="#555" fill-opacity="0.7"/>
<circle cx="670.06" cy="43.20" r="2.1" fill="#555" fill-opacity="0.7"/>
<path d="M625.06 137.6 H630.26 L627.66 142.4 Z" fill="none" stroke="#f6a82c" stroke-width="0.9"/>
<line x1="494.74" y1="32.90" x2="506.14" y2="32.90" stroke="#a8dcef" stroke-width="2.9" stroke-linecap="round"/>
<line x1="508.87" y1="29.60" x2="520.27" y2="29.60" stroke="#6b8fd3" stroke-width="2.9" stroke-linecap="round"/>
<line x1="523.01" y1="47.00" x2="534.41" y2="47.00" stroke="#259a3a" stroke-width="2.9" stroke-linecap="round"/>
<line x1="537.14" y1="61.40" x2="548.54" y2="61.40" stroke="#9dcf9b" stroke-width="2.9" stroke-linecap="round"/>
<line x1="551.28" y1="51.80" x2="562.68" y2="51.80" stroke="#1d6b35" stroke-width="2.9" stroke-linecap="round"/>
<line x1="565.41" y1="46.20" x2="576.81" y2="46.20" stroke="#5ec22f" stroke-width="2.9" stroke-linecap="round"/>
<line x1="579.55" y1="50.20" x2="590.95" y2="50.20" stroke="#96dcc1" stroke-width="2.9" stroke-linecap="round"/>
<line x1="593.69" y1="61.10" x2="605.09" y2="61.10" stroke="#f7cf2b" stroke-width="2.9" stroke-linecap="round"/>
<line x1="607.82" y1="115.80" x2="619.22" y2="115.80" stroke="#ae8422" stroke-width="2.9" stroke-linecap="round"/>
<line x1="621.96" y1="130.00" x2="633.36" y2="130.00" stroke="#f6a82c" stroke-width="2.9" stroke-linecap="round"/>
<line x1="636.09" y1="58.80" x2="647.49" y2="58.80" stroke="#ef8a37" stroke-width="2.9" stroke-linecap="round"/>
<line x1="650.23" y1="88.90" x2="661.63" y2="88.90" stroke="#df3a2b" stroke-width="2.9" stroke-linecap="round"/>
<line x1="664.36" y1="32.60" x2="675.76" y2="32.60" stroke="#000000" stroke-width="2.9" stroke-linecap="round"/>
<path d="M486.3 17.1 H684.2 V144.3" fill="none" stroke="#6e6e6e" stroke-width="1"/>
<path d="M486.3 17.1 V144.3 H684.2" fill="none" stroke="#222" stroke-width="1.1"/>
<line x1="482.0" y1="21.80" x2="486.3" y2="21.80" stroke="#222" stroke-width="0.9"/>
<text x="479.30" y="24.70" font-size="8.3" fill="#222" stroke="#222" stroke-width="0.1" text-anchor="end" font-weight="normal" >100</text>
<line x1="484.1" y1="49.25" x2="486.3" y2="49.25" stroke="#222" stroke-width="0.7"/>
<line x1="484.1" y1="42.33" x2="486.3" y2="42.33" stroke="#222" stroke-width="0.7"/>
<line x1="484.1" y1="37.43" x2="486.3" y2="37.43" stroke="#222" stroke-width="0.7"/>
<line x1="484.1" y1="33.62" x2="486.3" y2="33.62" stroke="#222" stroke-width="0.7"/>
<line x1="484.1" y1="30.51" x2="486.3" y2="30.51" stroke="#222" stroke-width="0.7"/>
<line x1="484.1" y1="27.88" x2="486.3" y2="27.88" stroke="#222" stroke-width="0.7"/>
<line x1="484.1" y1="25.61" x2="486.3" y2="25.61" stroke="#222" stroke-width="0.7"/>
<line x1="484.1" y1="23.60" x2="486.3" y2="23.60" stroke="#222" stroke-width="0.7"/>
<line x1="482.0" y1="61.07" x2="486.3" y2="61.07" stroke="#222" stroke-width="0.9"/>
<text x="479.30" y="63.97" font-size="8.3" fill="#222" stroke="#222" stroke-width="0.1" text-anchor="end" font-weight="normal" >10</text>
<line x1="484.1" y1="88.52" x2="486.3" y2="88.52" stroke="#222" stroke-width="0.7"/>
<line x1="484.1" y1="81.60" x2="486.3" y2="81.60" stroke="#222" stroke-width="0.7"/>
<line x1="484.1" y1="76.70" x2="486.3" y2="76.70" stroke="#222" stroke-width="0.7"/>
<line x1="484.1" y1="72.89" x2="486.3" y2="72.89" stroke="#222" stroke-width="0.7"/>
<line x1="484.1" y1="69.78" x2="486.3" y2="69.78" stroke="#222" stroke-width="0.7"/>
<line x1="484.1" y1="67.15" x2="486.3" y2="67.15" stroke="#222" stroke-width="0.7"/>
<line x1="484.1" y1="64.88" x2="486.3" y2="64.88" stroke="#222" stroke-width="0.7"/>
<line x1="484.1" y1="62.87" x2="486.3" y2="62.87" stroke="#222" stroke-width="0.7"/>
<line x1="482.0" y1="100.34" x2="486.3" y2="100.34" stroke="#222" stroke-width="0.9"/>
<text x="479.30" y="103.24" font-size="8.3" fill="#222" stroke="#222" stroke-width="0.1" text-anchor="end" font-weight="normal" >1</text>
<line x1="484.1" y1="127.79" x2="486.3" y2="127.79" stroke="#222" stroke-width="0.7"/>
<line x1="484.1" y1="120.87" x2="486.3" y2="120.87" stroke="#222" stroke-width="0.7"/>
<line x1="484.1" y1="115.97" x2="486.3" y2="115.97" stroke="#222" stroke-width="0.7"/>
<line x1="484.1" y1="112.16" x2="486.3" y2="112.16" stroke="#222" stroke-width="0.7"/>
<line x1="484.1" y1="109.05" x2="486.3" y2="109.05" stroke="#222" stroke-width="0.7"/>
<line x1="484.1" y1="106.42" x2="486.3" y2="106.42" stroke="#222" stroke-width="0.7"/>
<line x1="484.1" y1="104.15" x2="486.3" y2="104.15" stroke="#222" stroke-width="0.7"/>
<line x1="484.1" y1="102.14" x2="486.3" y2="102.14" stroke="#222" stroke-width="0.7"/>
<line x1="482.0" y1="139.61" x2="486.3" y2="139.61" stroke="#222" stroke-width="0.9"/>
<text x="479.30" y="142.51" font-size="8.3" fill="#222" stroke="#222" stroke-width="0.1" text-anchor="end" font-weight="normal" >0.1</text>
<text x="455.60" y="80.50" font-size="8.4" fill="#222" stroke="#222" stroke-width="0.1" text-anchor="middle" transform="rotate(-90 455.60 80.50)">Activated (%)</text>
<text x="585.00" y="11.80" font-size="8.4" fill="#222" stroke="#222" stroke-width="0.1" text-anchor="middle" font-weight="normal" >(+)CMV</text>
<text x="502.94" y="154.50" font-size="8.4" fill="#222" stroke="#222" stroke-width="0.1" text-anchor="end" transform="rotate(-45 502.94 154.50)">Human tRNA<tspan font-size="6.4" dx="0.6" dy="-3.6">Gly</tspan></text>
<text x="517.07" y="154.50" font-size="8.4" fill="#222" stroke="#222" stroke-width="0.1" text-anchor="end" transform="rotate(-45 517.07 154.50)">Human tRNA<tspan font-size="6.4" dx="0.6" dy="-3.6">Pro</tspan></text>
<text x="530.21" y="152.70" font-size="8.4" fill="#222" stroke="#222" stroke-width="0.1" text-anchor="end" transform="rotate(-45 530.21 152.70)">G17A/A20G</text>
<text x="544.34" y="152.70" font-size="8.4" fill="#222" stroke="#222" stroke-width="0.1" text-anchor="end" transform="rotate(-45 544.34 152.70)">T54C/A58C</text>
<text x="558.48" y="152.70" font-size="8.4" fill="#222" stroke="#222" stroke-width="0.1" text-anchor="end" transform="rotate(-45 558.48 152.70)">G17T/C55A</text>
<text x="572.61" y="152.70" font-size="8.4" fill="#222" stroke="#222" stroke-width="0.1" text-anchor="end" transform="rotate(-45 572.61 152.70)">G9C/A56T</text>
<text x="586.75" y="152.70" font-size="8.4" fill="#222" stroke="#222" stroke-width="0.1" text-anchor="end" transform="rotate(-45 586.75 152.70)">G18T/C55G</text>
<text x="600.89" y="152.70" font-size="8.4" fill="#222" stroke="#222" stroke-width="0.1" text-anchor="end" transform="rotate(-45 600.89 152.70)">Deletion (Δ)</text>
<text x="615.02" y="152.70" font-size="8.4" fill="#222" stroke="#222" stroke-width="0.1" text-anchor="end" transform="rotate(-45 615.02 152.70)">ΔC55A</text>
<text x="629.16" y="152.70" font-size="8.4" fill="#222" stroke="#222" stroke-width="0.1" text-anchor="end" transform="rotate(-45 629.16 152.70)">ΔT54C/A58C</text>
<text x="643.29" y="152.70" font-size="8.4" fill="#222" stroke="#222" stroke-width="0.1" text-anchor="end" transform="rotate(-45 643.29 152.70)">ΔG9C/A56T</text>
<text x="657.43" y="152.70" font-size="8.4" fill="#222" stroke="#222" stroke-width="0.1" text-anchor="end" transform="rotate(-45 657.43 152.70)">ΔC55G</text>
<text x="671.56" y="152.70" font-size="8.4" fill="#222" stroke="#222" stroke-width="0.1" text-anchor="end" transform="rotate(-45 671.56 152.70)">U6</text>
<path d="M493.6 189.5 V191.5 H656.5 V189.5" fill="none" stroke="#333" stroke-width="0.9"/>
<text x="574.00" y="205.60" font-size="8.6" fill="#222" stroke="#222" stroke-width="0.1" text-anchor="middle" font-weight="normal" >tRNA<tspan font-size="6.5" dy="-3.4">Pro</tspan></text>
<line x1="329.6" y1="345.0" x2="541.4" y2="345.0" stroke="#8a8a8a" stroke-width="1"/>
<circle cx="344.73" cy="339.10" r="2.1" fill="#a8dcef" fill-opacity="0.5"/>
<circle cx="344.73" cy="344.50" r="2.1" fill="#a8dcef" fill-opacity="0.5"/>
<circle cx="358.66" cy="342.00" r="2.1" fill="#6b8fd3" fill-opacity="0.5"/>
<circle cx="361.06" cy="344.00" r="2.1" fill="#6b8fd3" fill-opacity="0.5"/>
<circle cx="374.99" cy="341.00" r="2.1" fill="#259a3a" fill-opacity="0.5"/>
<circle cx="374.99" cy="344.50" r="2.1" fill="#259a3a" fill-opacity="0.5"/>
<circle cx="390.11" cy="342.30" r="2.1" fill="#9dcf9b" fill-opacity="0.5"/>
<circle cx="390.11" cy="348.30" r="2.1" fill="#9dcf9b" fill-opacity="0.5"/>
<circle cx="405.24" cy="343.00" r="2.1" fill="#1d6b35" fill-opacity="0.5"/>
<circle cx="405.24" cy="348.30" r="2.1" fill="#1d6b35" fill-opacity="0.5"/>
<circle cx="420.37" cy="340.30" r="2.1" fill="#5ec22f" fill-opacity="0.5"/>
<circle cx="420.37" cy="346.00" r="2.1" fill="#5ec22f" fill-opacity="0.5"/>
<circle cx="435.50" cy="342.30" r="2.1" fill="#96dcc1" fill-opacity="0.5"/>
<circle cx="435.50" cy="348.30" r="2.1" fill="#96dcc1" fill-opacity="0.5"/>
<circle cx="449.43" cy="321.90" r="2.1" fill="#f7cf2b" fill-opacity="0.5"/>
<circle cx="451.83" cy="324.00" r="2.1" fill="#f7cf2b" fill-opacity="0.5"/>
<circle cx="450.63" cy="330.60" r="2.1" fill="#f7cf2b" fill-opacity="0.5"/>
<circle cx="465.76" cy="304.00" r="2.1" fill="#ae8422" fill-opacity="0.5"/>
<circle cx="465.76" cy="332.20" r="2.1" fill="#ae8422" fill-opacity="0.5"/>
<circle cx="465.76" cy="345.00" r="2.1" fill="#ae8422" fill-opacity="0.5"/>
<circle cx="480.89" cy="325.10" r="2.1" fill="#f6a82c" fill-opacity="0.5"/>
<circle cx="480.89" cy="345.00" r="2.1" fill="#f6a82c" fill-opacity="0.5"/>
<circle cx="496.01" cy="336.00" r="2.1" fill="#ef8a37" fill-opacity="0.5"/>
<circle cx="496.01" cy="343.40" r="2.1" fill="#ef8a37" fill-opacity="0.5"/>
<circle cx="509.94" cy="284.50" r="2.1" fill="#df3a2b" fill-opacity="0.5"/>
<circle cx="512.34" cy="284.50" r="2.1" fill="#df3a2b" fill-opacity="0.5"/>
<circle cx="511.14" cy="290.90" r="2.1" fill="#df3a2b" fill-opacity="0.5"/>
<circle cx="511.14" cy="305.60" r="2.1" fill="#df3a2b" fill-opacity="0.5"/>
<circle cx="511.14" cy="313.60" r="2.1" fill="#df3a2b" fill-opacity="0.5"/>
<circle cx="525.07" cy="235.20" r="2.1" fill="#555" fill-opacity="0.7"/>
<circle cx="527.47" cy="236.20" r="2.1" fill="#555" fill-opacity="0.7"/>
<circle cx="526.27" cy="249.60" r="2.1" fill="#555" fill-opacity="0.7"/>
<line x1="339.38" y1="343.50" x2="350.08" y2="343.50" stroke="#a8dcef" stroke-width="2.9" stroke-linecap="round"/>
<line x1="354.51" y1="343.00" x2="365.21" y2="343.00" stroke="#6b8fd3" stroke-width="2.9" stroke-linecap="round"/>
<line x1="369.64" y1="343.10" x2="380.34" y2="343.10" stroke="#259a3a" stroke-width="2.9" stroke-linecap="round"/>
<line x1="384.76" y1="345.90" x2="395.46" y2="345.90" stroke="#9dcf9b" stroke-width="2.9" stroke-linecap="round"/>
<line x1="399.89" y1="344.80" x2="410.59" y2="344.80" stroke="#1d6b35" stroke-width="2.9" stroke-linecap="round"/>
<line x1="415.02" y1="343.00" x2="425.72" y2="343.00" stroke="#5ec22f" stroke-width="2.9" stroke-linecap="round"/>
<line x1="430.15" y1="345.10" x2="440.85" y2="345.10" stroke="#96dcc1" stroke-width="2.9" stroke-linecap="round"/>
<line x1="445.28" y1="327.40" x2="455.98" y2="327.40" stroke="#f7cf2b" stroke-width="2.9" stroke-linecap="round"/>
<line x1="460.41" y1="321.00" x2="471.11" y2="321.00" stroke="#ae8422" stroke-width="2.9" stroke-linecap="round"/>
<line x1="475.54" y1="335.40" x2="486.24" y2="335.40" stroke="#f6a82c" stroke-width="2.9" stroke-linecap="round"/>
<line x1="490.66" y1="340.20" x2="501.36" y2="340.20" stroke="#ef8a37" stroke-width="2.9" stroke-linecap="round"/>
<line x1="505.79" y1="296.00" x2="516.49" y2="296.00" stroke="#df3a2b" stroke-width="2.9" stroke-linecap="round"/>
<line x1="520.92" y1="239.10" x2="531.62" y2="239.10" stroke="#000000" stroke-width="2.9" stroke-linecap="round"/>
<path d="M359.5 337.5 V275.5 H511.5 V282" fill="none" stroke="#333" stroke-width="0.9" stroke-dasharray="1.6 0.8"/>
<text x="435.80" y="272.20" font-size="8" fill="#222" stroke="#222" stroke-width="0.1" text-anchor="middle" font-weight="normal" >28×</text>
<path d="M329.6 223.5 H541.4 V359.4 H329.6 Z" fill="none" stroke="#333" stroke-width="0.9"/>
<line x1="325.3" y1="344.40" x2="329.6" y2="344.40" stroke="#222" stroke-width="0.9"/>
<text x="322.80" y="347.30" font-size="8.3" fill="#222" stroke="#222" stroke-width="0.1" text-anchor="end" font-weight="normal" >0.0</text>
<line x1="325.3" y1="325.10" x2="329.6" y2="325.10" stroke="#222" stroke-width="0.9"/>
<text x="322.80" y="328.00" font-size="8.3" fill="#222" stroke="#222" stroke-width="0.1" text-anchor="end" font-weight="normal" >0.5</text>
<line x1="325.3" y1="305.80" x2="329.6" y2="305.80" stroke="#222" stroke-width="0.9"/>
<text x="322.80" y="308.70" font-size="8.3" fill="#222" stroke="#222" stroke-width="0.1" text-anchor="end" font-weight="normal" >1.0</text>
<line x1="325.3" y1="286.50" x2="329.6" y2="286.50" stroke="#222" stroke-width="0.9"/>
<text x="322.80" y="289.40" font-size="8.3" fill="#222" stroke="#222" stroke-width="0.1" text-anchor="end" font-weight="normal" >1.5</text>
<line x1="325.3" y1="267.20" x2="329.6" y2="267.20" stroke="#222" stroke-width="0.9"/>
<text x="322.80" y="270.10" font-size="8.3" fill="#222" stroke="#222" stroke-width="0.1" text-anchor="end" font-weight="normal" >2.0</text>
<line x1="325.3" y1="247.90" x2="329.6" y2="247.90" stroke="#222" stroke-width="0.9"/>
<text x="322.80" y="250.80" font-size="8.3" fill="#222" stroke="#222" stroke-width="0.1" text-anchor="end" font-weight="normal" >2.5</text>
<line x1="325.3" y1="228.60" x2="329.6" y2="228.60" stroke="#222" stroke-width="0.9"/>
<text x="322.80" y="231.50" font-size="8.3" fill="#222" stroke="#222" stroke-width="0.1" text-anchor="end" font-weight="normal" >3.0</text>
<line x1="344.73" y1="359.4" x2="344.73" y2="362.4" stroke="#222" stroke-width="0.9"/>
<line x1="359.86" y1="359.4" x2="359.86" y2="362.4" stroke="#222" stroke-width="0.9"/>
<line x1="374.99" y1="359.4" x2="374.99" y2="362.4" stroke="#222" stroke-width="0.9"/>
<line x1="390.11" y1="359.4" x2="390.11" y2="362.4" stroke="#222" stroke-width="0.9"/>
<line x1="405.24" y1="359.4" x2="405.24" y2="362.4" stroke="#222" stroke-width="0.9"/>
<line x1="420.37" y1="359.4" x2="420.37" y2="362.4" stroke="#222" stroke-width="0.9"/>
<line x1="435.50" y1="359.4" x2="435.50" y2="362.4" stroke="#222" stroke-width="0.9"/>
<line x1="450.63" y1="359.4" x2="450.63" y2="362.4" stroke="#222" stroke-width="0.9"/>
<line x1="465.76" y1="359.4" x2="465.76" y2="362.4" stroke="#222" stroke-width="0.9"/>
<line x1="480.89" y1="359.4" x2="480.89" y2="362.4" stroke="#222" stroke-width="0.9"/>
<line x1="496.01" y1="359.4" x2="496.01" y2="362.4" stroke="#222" stroke-width="0.9"/>
<line x1="511.14" y1="359.4" x2="511.14" y2="362.4" stroke="#222" stroke-width="0.9"/>
<line x1="526.27" y1="359.4" x2="526.27" y2="362.4" stroke="#222" stroke-width="0.9"/>
<text x="297.50" y="292.20" font-size="8.4" fill="#222" stroke="#222" stroke-width="0.1" text-anchor="middle" transform="rotate(-90 297.50 292.20)">Log<tspan font-size="6" dy="2">10</tspan><tspan dy="-2">(ON)-Log</tspan><tspan font-size="6" dy="2">10</tspan><tspan dy="-2">(OFF)</tspan></text>
<text x="347.23" y="372.90" font-size="8.4" fill="#222" stroke="#222" stroke-width="0.1" text-anchor="end" transform="rotate(-45 347.23 372.90)">Human tRNA<tspan font-size="6.4" dx="0.6" dy="-3.6">Gly</tspan></text>
<text x="362.36" y="372.90" font-size="8.4" fill="#222" stroke="#222" stroke-width="0.1" text-anchor="end" transform="rotate(-45 362.36 372.90)">Human tRNA<tspan font-size="6.4" dx="0.6" dy="-3.6">Pro</tspan></text>
<text x="376.49" y="371.10" font-size="8.4" fill="#222" stroke="#222" stroke-width="0.1" text-anchor="end" transform="rotate(-45 376.49 371.10)">G17A/A20G</text>
<text x="391.61" y="371.10" font-size="8.4" fill="#222" stroke="#222" stroke-width="0.1" text-anchor="end" transform="rotate(-45 391.61 371.10)">T54C/A58C</text>
<text x="406.74" y="371.10" font-size="8.4" fill="#222" stroke="#222" stroke-width="0.1" text-anchor="end" transform="rotate(-45 406.74 371.10)">G17T/C55A</text>
<text x="421.87" y="371.10" font-size="8.4" fill="#222" stroke="#222" stroke-width="0.1" text-anchor="end" transform="rotate(-45 421.87 371.10)">G9C/A56T</text>
<text x="437.00" y="371.10" font-size="8.4" fill="#222" stroke="#222" stroke-width="0.1" text-anchor="end" transform="rotate(-45 437.00 371.10)">G18T/C55G</text>
<text x="452.13" y="371.10" font-size="8.4" fill="#222" stroke="#222" stroke-width="0.1" text-anchor="end" transform="rotate(-45 452.13 371.10)">Deletion (Δ)</text>
<text x="467.26" y="371.10" font-size="8.4" fill="#222" stroke="#222" stroke-width="0.1" text-anchor="end" transform="rotate(-45 467.26 371.10)">ΔC55A</text>
<text x="482.39" y="371.10" font-size="8.4" fill="#222" stroke="#222" stroke-width="0.1" text-anchor="end" transform="rotate(-45 482.39 371.10)">ΔT54C/A58C</text>
<text x="497.51" y="371.10" font-size="8.4" fill="#222" stroke="#222" stroke-width="0.1" text-anchor="end" transform="rotate(-45 497.51 371.10)">ΔG9C/A56T</text>
<text x="512.64" y="371.10" font-size="8.4" fill="#222" stroke="#222" stroke-width="0.1" text-anchor="end" transform="rotate(-45 512.64 371.10)">ΔC55G</text>
<text x="527.77" y="371.10" font-size="8.4" fill="#222" stroke="#222" stroke-width="0.1" text-anchor="end" transform="rotate(-45 527.77 371.10)">U6</text>
<path d="M343.6 407.2 V409.2 H513.3 V407.2" fill="none" stroke="#333" stroke-width="0.9"/>
<text x="429.00" y="421.50" font-size="8.6" fill="#222" stroke="#222" stroke-width="0.1" text-anchor="middle" font-weight="normal" >tRNA<tspan font-size="6.5" dy="-3.4">Pro</tspan></text>
<path d="M573.9 266.4 L579.5 263 L585.1 264.7 L585.6 268 L581.7 272.5 L575.6 271.4 Z" fill="#e2e2e2" stroke="#9a9a9a" stroke-width="0.5" stroke-linejoin="round"/>
<ellipse cx="578.6" cy="267.0" rx="2.3" ry="1.8" transform="rotate(-20 578.6 267.0)" fill="#5e5e5e" fill-opacity="0.85"/>
<path d="M583.78 267.84 L587.40 268.50 L591.07 268.16 L589.58 271.10 L590.26 274.32 L587.10 273.09 L583.78 273.76 L585.00 270.80 Z" fill="#4aa0d8" stroke="#3a8cc4" stroke-width="0.3" stroke-linejoin="round"/>
<circle cx="587.3" cy="271.0" r="1.3" fill="#4a4a4a"/>
<path d="M572.8 275.3 L575.6 272.5 L580.6 272 L583.4 274.7 L581.2 280.3 L575 279.7 Z" fill="#dedede" stroke="#9a9a9a" stroke-width="0.5" stroke-linejoin="round"/>
<ellipse cx="577.8" cy="276.4" rx="2.0" ry="1.7" transform="rotate(-20 577.8 276.4)" fill="#5e5e5e" fill-opacity="0.85"/>
<path d="M581.2 279.7 L584.5 277 L590.1 278.1 L591.2 282 L586.7 284.8 L581.7 283.6 Z" fill="#e2e2e2" stroke="#9a9a9a" stroke-width="0.5" stroke-linejoin="round"/>
<ellipse cx="585.8" cy="280.9" rx="2.3" ry="1.8" transform="rotate(-20 585.8 280.9)" fill="#5e5e5e" fill-opacity="0.85"/>
<path d="M579.28 285.14 L582.90 285.80 L586.57 285.46 L585.08 288.40 L585.76 291.62 L582.60 290.39 L579.28 291.06 L580.50 288.10 Z" fill="#4aa0d8" stroke="#3a8cc4" stroke-width="0.3" stroke-linejoin="round"/>
<circle cx="582.8" cy="288.3" r="1.3" fill="#4a4a4a"/>
<path d="M580 295.5 L583 294.8 L585 297 L584.6 302 L580.5 302.6 L579.6 299 Z" fill="#dcdcdc" stroke="#9a9a9a" stroke-width="0.5" stroke-linejoin="round"/>
<ellipse cx="581.9" cy="298.7" rx="1.5" ry="1.3" transform="rotate(-20 581.9 298.7)" fill="#5e5e5e" fill-opacity="0.85"/>
<path d="M570.4 263.6 V282.5 L577.5 290.3 V304.3" fill="none" stroke="#2a2a2a" stroke-width="1.5"/>
<path d="M594.5 263.6 V282.5 L586.7 290.3 V304.3" fill="none" stroke="#2a2a2a" stroke-width="1.5"/>
<line x1="568" y1="295.9" x2="594.5" y2="295.9" stroke="#e03030" stroke-width="0.6" stroke-dasharray="1.3 0.9"/>
<line x1="567.5" y1="295.9" x2="572.10" y2="295.90" stroke="#e02020" stroke-width="0.6"/>
<line x1="567.5" y1="295.9" x2="571.75" y2="297.66" stroke="#e02020" stroke-width="0.6"/>
<line x1="567.5" y1="295.9" x2="570.75" y2="299.15" stroke="#e02020" stroke-width="0.6"/>
<line x1="567.5" y1="295.9" x2="569.26" y2="300.15" stroke="#e02020" stroke-width="0.6"/>
<line x1="567.5" y1="295.9" x2="567.50" y2="300.50" stroke="#e02020" stroke-width="0.6"/>
<line x1="567.5" y1="295.9" x2="565.74" y2="300.15" stroke="#e02020" stroke-width="0.6"/>
<line x1="567.5" y1="295.9" x2="564.25" y2="299.15" stroke="#e02020" stroke-width="0.6"/>
<line x1="567.5" y1="295.9" x2="563.25" y2="297.66" stroke="#e02020" stroke-width="0.6"/>
<line x1="567.5" y1="295.9" x2="562.90" y2="295.90" stroke="#e02020" stroke-width="0.6"/>
<line x1="567.5" y1="295.9" x2="563.25" y2="294.14" stroke="#e02020" stroke-width="0.6"/>
<line x1="567.5" y1="295.9" x2="564.25" y2="292.65" stroke="#e02020" stroke-width="0.6"/>
<line x1="567.5" y1="295.9" x2="565.74" y2="291.65" stroke="#e02020" stroke-width="0.6"/>
<line x1="567.5" y1="295.9" x2="567.50" y2="291.30" stroke="#e02020" stroke-width="0.6"/>
<line x1="567.5" y1="295.9" x2="569.26" y2="291.65" stroke="#e02020" stroke-width="0.6"/>
<line x1="567.5" y1="295.9" x2="570.75" y2="292.65" stroke="#e02020" stroke-width="0.6"/>
<line x1="567.5" y1="295.9" x2="571.75" y2="294.14" stroke="#e02020" stroke-width="0.6"/>
<circle cx="567.5" cy="295.9" r="2.6" fill="#e02020"/>
<text x="582.30" y="314.60" font-size="8.4" fill="#222" stroke="#222" stroke-width="0.1" text-anchor="middle" font-weight="normal" >FACS</text>
</svg></body></html>
